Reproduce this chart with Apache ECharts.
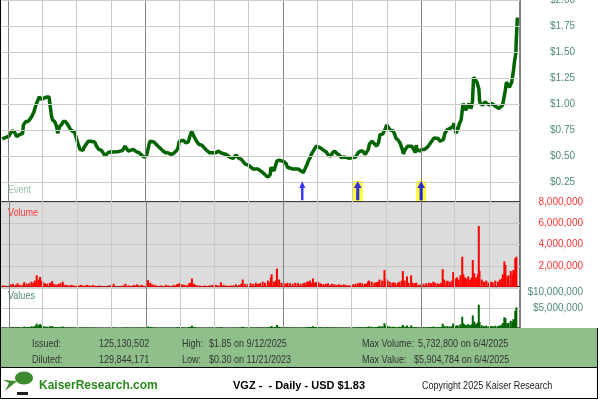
<!DOCTYPE html>
<html><head><meta charset="utf-8">
<script src="https://cdn.jsdelivr.net/npm/echarts/dist/echarts.min.js"></script>
<style>html,body{margin:0;padding:0;background:#fff}#c{width:600px;height:400px}</style>
</head><body><div id="c"></div>
<script>
// ---------- data ----------
const dates = [
 '2021-12-17','2021-12-23',
 '2022-01-03','2022-01-06','2022-01-12','2022-01-19','2022-01-24','2022-01-28',
 '2022-02-01','2022-02-09','2022-02-11','2022-02-17','2022-02-23',
 '2022-03-02','2022-03-07','2022-03-11','2022-03-16','2022-03-21','2022-03-25','2022-03-28',
 '2022-04-01','2022-04-07','2022-04-13','2022-04-20','2022-04-22','2022-04-26','2022-04-29',
 '2022-05-05','2022-05-10','2022-05-13','2022-05-18','2022-05-24','2022-05-27',
 '2022-06-03','2022-06-09','2022-06-16','2022-06-21','2022-06-27',
 '2022-07-01','2022-07-05','2022-07-11','2022-07-15','2022-07-19','2022-07-22','2022-07-28',
 '2022-08-02','2022-08-08','2022-08-12','2022-08-19','2022-08-24','2022-08-30',
 '2022-09-06','2022-09-09','2022-09-16','2022-09-23','2022-09-30',
 '2022-10-07','2022-10-12','2022-10-18','2022-10-25',
 '2022-11-01','2022-11-07','2022-11-11','2022-11-16','2022-11-21','2022-11-29',
 '2022-12-02','2022-12-08','2022-12-15','2022-12-21','2022-12-27',
 '2023-01-03','2023-01-06','2023-01-12','2023-01-17','2023-01-23','2023-01-27',
 '2023-02-03','2023-02-09','2023-02-16','2023-02-23',
 '2023-03-01','2023-03-08','2023-03-15','2023-03-20','2023-03-24','2023-03-28','2023-03-31',
 '2023-04-06','2023-04-12','2023-04-17','2023-04-24','2023-04-28',
 '2023-05-03','2023-05-08','2023-05-11','2023-05-16','2023-05-23','2023-05-30',
 '2023-06-05','2023-06-12','2023-06-19','2023-06-26','2023-06-30',
 '2023-07-06','2023-07-12','2023-07-19','2023-07-26',
 '2023-08-02','2023-08-08','2023-08-14','2023-08-21','2023-08-28',
 '2023-09-05','2023-09-11','2023-09-15','2023-09-22','2023-09-29',
 '2023-10-06','2023-10-13','2023-10-20','2023-10-26','2023-10-31',
 '2023-11-07','2023-11-13','2023-11-21','2023-11-27','2023-11-29',
 '2023-12-01','2023-12-07','2023-12-12','2023-12-15','2023-12-21','2023-12-27',
 '2024-01-02','2024-01-08','2024-01-12','2024-01-19','2024-01-26',
 '2024-02-02','2024-02-09','2024-02-16','2024-02-23','2024-02-27',
 '2024-03-04','2024-03-07','2024-03-12','2024-03-15','2024-03-20','2024-03-25','2024-03-28',
 '2024-04-02','2024-04-08','2024-04-11','2024-04-17','2024-04-23','2024-04-29',
 '2024-05-06','2024-05-10','2024-05-16','2024-05-22','2024-05-28',
 '2024-06-03','2024-06-10','2024-06-17','2024-06-24',
 '2024-07-01','2024-07-05','2024-07-11','2024-07-17','2024-07-23','2024-07-29',
 '2024-08-05','2024-08-08','2024-08-13','2024-08-16','2024-08-23','2024-08-30',
 '2024-09-04','2024-09-09','2024-09-13','2024-09-20','2024-09-26',
 '2024-10-01','2024-10-04','2024-10-10','2024-10-17','2024-10-21','2024-10-25',
 '2024-11-01','2024-11-05','2024-11-11','2024-11-14','2024-11-19','2024-11-25','2024-11-29',
 '2024-12-06','2024-12-10','2024-12-16','2024-12-18','2024-12-20','2024-12-27',
 '2025-01-02','2025-01-08','2025-01-15','2025-01-22','2025-01-28',
 '2025-02-03','2025-02-07','2025-02-14','2025-02-19','2025-02-24','2025-02-28',
 '2025-03-04','2025-03-10','2025-03-13','2025-03-19','2025-03-25','2025-03-28',
 '2025-04-02','2025-04-07','2025-04-11','2025-04-16','2025-04-21','2025-04-24','2025-04-28',
 '2025-05-02','2025-05-07','2025-05-12','2025-05-16','2025-05-19','2025-05-23','2025-05-28',
 '2025-06-02','2025-06-04','2025-06-06','2025-06-12','2025-06-18','2025-06-24','2025-06-30',
 '2025-07-07','2025-07-11','2025-07-18','2025-07-25','2025-07-30',
 '2025-08-04','2025-08-07','2025-08-11','2025-08-14','2025-08-19','2025-08-22','2025-08-28',
 '2025-09-02','2025-09-04','2025-09-08','2025-09-09','2025-09-12'
];
const closePrice = [
 0.665,0.675,
 0.69,0.707,0.744,0.728,0.69,0.68,
 0.707,0.72,0.80,0.832,0.832,
 0.863,0.895,0.926,0.99,1.005,1.068,1.05,
 1.046,1.058,1.068,1.068,1.05,0.895,0.848,
 0.832,0.785,0.72,0.785,0.807,0.832,
 0.832,0.80,0.754,0.738,0.728,
 0.712,0.627,0.565,0.565,0.555,0.587,0.618,
 0.643,0.643,0.65,0.637,0.596,0.565,
 0.555,0.54,0.502,0.533,0.542,
 0.54,0.524,0.542,0.549,
 0.555,0.596,0.612,0.549,0.565,0.565,
 0.58,0.542,0.533,0.511,0.492,
 0.502,0.549,0.643,0.65,0.637,0.627,
 0.596,0.575,0.549,0.533,
 0.533,0.518,0.524,0.533,0.555,0.58,0.643,
 0.65,0.65,0.627,0.637,0.69,
 0.738,0.72,0.675,0.643,0.612,0.606,
 0.58,0.555,0.533,0.533,0.524,
 0.533,0.549,0.533,0.524,
 0.518,0.502,0.486,0.48,0.511,
 0.48,0.471,0.455,0.424,0.417,
 0.398,0.376,0.376,0.376,0.36,
 0.344,0.323,0.30,0.323,0.392,
 0.408,0.36,0.376,0.455,0.461,0.455,
 0.448,0.43,0.392,0.386,0.376,
 0.376,0.376,0.36,0.344,0.36,
 0.424,0.455,0.486,0.518,0.549,0.549,0.596,
 0.612,0.58,0.58,0.555,0.542,0.511,
 0.502,0.533,0.549,0.524,0.511,
 0.486,0.492,0.486,0.48,
 0.486,0.48,0.492,0.533,0.549,0.549,
 0.518,0.511,0.565,0.618,0.643,0.618,
 0.596,0.627,0.707,0.712,0.754,
 0.80,0.785,0.75,0.745,0.72,0.675,
 0.65,0.627,0.565,0.524,0.565,0.596,0.612,
 0.596,0.58,0.533,0.606,0.565,0.549,
 0.565,0.565,0.58,0.612,0.643,
 0.675,0.681,0.669,0.643,0.627,0.66,
 0.72,0.754,0.763,0.769,0.785,0.816,
 0.72,0.754,0.807,0.848,1.005,0.99,0.942,
 0.958,1.005,0.958,1.021,1.257,1.257,1.21,
 1.146,1.03,1.005,0.99,1.021,1.005,0.99,
 1.005,0.99,0.974,0.958,0.942,
 0.99,1.052,1.131,1.21,1.193,1.162,1.21,
 1.33,1.398,1.492,1.603,1.83
];
// shares traded, thousands
const volumeK = [
 150,120,
 200,250,300,200,350,150,
 200,300,450,300,350,
 500,400,600,1100,700,950,600,
 500,350,300,400,300,550,300,
 250,200,300,350,500,250,
 200,150,200,150,120,
 100,150,200,150,100,120,200,
 150,100,200,120,60,150,
 80,100,60,150,200,
 300,50,50,100,
 150,300,100,150,100,200,
 150,250,150,200,100,
 350,650,400,250,200,150,
 100,150,100,200,
 150,100,200,150,250,300,350,
 250,200,150,300,400,
 800,300,200,150,150,100,
 150,100,150,200,100,
 200,150,450,200,
 150,100,150,150,250,
 200,300,700,300,250,
 350,300,400,300,350,
 500,400,600,500,900,
 1200,500,600,1730,700,400,
 350,300,400,350,300,
 400,350,300,350,400,
 500,500,600,400,800,400,450,
 500,350,300,250,300,350,
 200,300,250,200,250,
 200,250,200,150,
 200,250,300,350,400,350,
 300,300,500,600,500,400,
 450,500,700,600,1600,
 800,600,500,400,450,350,
 400,500,600,1500,600,1000,400,
 1100,400,350,300,400,200,
 250,300,350,400,350,
 500,400,350,300,400,1670,
 700,500,600,500,600,1400,
 800,900,700,1100,2850,1200,900,
 800,1000,700,900,2540,1300,900,
 1200,5732.8,1500,700,500,600,400,
 500,450,600,500,700,
 800,1200,2400,2070,1000,1100,1500,
 1200,1600,1400,2700,2850
];
// dollar value traded, thousands of USD
const valueK = [
 100,80,
 140,180,220,150,240,100,
 140,220,360,250,290,
 430,360,560,1090,700,1010,630,
 520,370,320,430,320,490,250,
 210,160,220,270,400,210,
 170,120,150,110,90,
 70,90,110,80,60,70,120,
 100,60,130,80,40,80,
 40,50,30,80,110,
 160,30,30,50,
 80,180,60,80,60,110,
 90,140,80,100,50,
 180,360,260,160,130,90,
 60,90,50,110,
 80,50,100,80,140,170,230,
 160,130,90,190,280,
 590,220,140,100,90,60,
 90,60,80,110,50,
 110,80,240,100,
 80,50,70,70,130,
 100,140,320,130,100,
 140,110,150,110,130,
 170,130,180,160,350,
 490,180,230,790,320,180,
 160,130,160,140,110,
 150,130,110,120,140,
 210,230,290,210,440,220,270,
 310,200,170,140,160,180,
 100,160,140,100,130,
 100,120,100,70,
 100,120,150,190,220,190,
 160,150,280,370,320,250,
 270,310,490,430,1210,
 640,470,380,300,320,240,
 260,310,340,790,340,600,240,
 660,230,190,180,230,110,
 140,170,200,240,230,
 340,270,230,190,250,1100,
 500,380,460,380,470,1140,
 580,680,560,930,2860,1190,850,
 770,1000,670,920,3190,1630,1090,
 1380,5904.8,1510,690,510,600,400,
 500,450,580,480,660,
 790,1260,2710,2500,1190,1280,1820,
 1600,2240,2090,4330,5220
];
const priceTicks = [0.25,0.5,0.75,1.0,1.25,1.5,1.75,2.0];
const priceTickLabels = ['$0.25','$0.50','$0.75','$1.00','$1.25','$1.50','$1.75','$2.00'];
const yearLines = ['2022-01-01','2023-01-01','2024-01-01','2025-01-01'];
const quarterLines = ['2022-04-01','2022-07-01','2022-10-01','2023-04-01','2023-07-01','2023-10-01',
 '2024-04-01','2024-07-01','2024-10-01','2025-04-01','2025-07-01'];
const eventDates = ['2024-02-20','2024-07-16','2024-12-31'];
const eventHighlighted = [false,true,true];
const statRows = [
 ['Issued:','125,130,502','High:','$1.85 on 9/12/2025','Max Volume:','5,732,800 on 6/4/2025'],
 ['Diluted:','129,844,171','Low:','$0.30 on 11/21/2023','Max Value:','$5,904,784 on 6/4/2025']
];
const titleText = 'VGZ -  - Daily - USD $1.83';
const brandText = 'KaiserResearch.com';
const copyrightText = 'Copyright 2025 Kaiser Research';

// ---------- chart ----------
const FONT = '"Liberation Sans",Arial,sans-serif';
const NARROW = 0.82;   // horizontal squeeze to imitate a narrow face
const X_MIN = '2021-12-11', X_MAX = '2025-09-19';
const TEAL = '#4f8a72';
const EVENT_Y = 0.167;

function commas(n){ return String(Math.round(n)).replace(/\B(?=(\d{3})+(?!\d))/g, ','); }

function vLines(){
  return quarterLines.map(d => ({xAxis: d, lineStyle: {color: '#c9c9c9'}}))
    .concat(yearLines.map(d => ({xAxis: d, lineStyle: {color: '#808080'}})));
}
function helper(gi, extra){
  return {type:'line', xAxisIndex:gi, yAxisIndex:gi, data:[], z:1, silent:true, animation:false,
    markLine:{silent:true, symbol:['none','none'], animation:false,
      lineStyle:{type:'solid', width:1}, label:{show:false},
      data: vLines().concat(extra || [])}};
}
const priceGridLines = priceTicks.map((v,i) => ({
  yAxis: v, lineStyle:{color:'#cccccc'},
  label:{show:true, position:'end', formatter: priceTickLabels[i], color: TEAL,
    fontFamily: FONT, fontSize: 10, distance: 55, align:'right'}
}));

const chart = echarts.init(document.getElementById('c'), null, {renderer:'canvas'});

const txt = (text, x, y, fill, font, sx) => ({type:'text', x:x, y:y, scaleX: sx || 1, silent:true, z:100,
  style:{text:text, fill:fill, font:font, textAlign:'left', textVerticalAlign:'middle', align:'left', verticalAlign:'middle'}});

const graphics = [
  {type:'rect', shape:{x:0, y:328, width:598, height:40}, style:{fill:'#8fbf8b'}, z:90, silent:true},
  {type:'rect', shape:{x:0.5, y:367.5, width:597, height:31}, style:{fill:'#fff', stroke:'#000', lineWidth:1}, z:90, silent:true},
  {type:'line', shape:{x1:0.5, y1:0, x2:0.5, y2:399}, style:{stroke:'#000', lineWidth:1}, z:95, silent:true},
  {type:'line', shape:{x1:597.5, y1:328, x2:597.5, y2:399}, style:{stroke:'#000', lineWidth:1}, z:95, silent:true},
  txt('Event', 8, 190, '#9cc4a4', '11px ' + FONT, NARROW),
  txt('Volume', 8, 213, '#ff3b3b', '11px ' + FONT, NARROW),
  txt('Values', 8, 296, TEAL, '11px ' + FONT, NARROW),
  // logo
  {type:'polygon', shape:{points:[[17,381],[5,391],[9,383],[3,380]]}, style:{fill:'#3d8b2e'}, z:95, silent:true},
  {type:'ellipse', shape:{cx:24, cy:378, rx:9, ry:6.5}, style:{fill:'#3d8b2e'}, z:95, silent:true},
  {type:'rect', shape:{x:17, y:392, width:11, height:3}, style:{fill:'#222'}, z:95, silent:true},
  txt(brandText, 39, 386, '#2a8a1e', 'bold 12px ' + FONT),
  txt(titleText, 233, 386, '#000', 'bold 11px ' + FONT),
  txt(copyrightText, 422, 386, '#222', '11px ' + FONT, NARROW)
];
const colX = [[32, 99], [182, 209], [362, 418]];
statRows.forEach((row, r) => {
  const y = r === 0 ? 344 : 359.5;
  for (let c = 0; c < 3; c++) {
    graphics.push(txt(row[c*2], colX[c][0], y, '#333', '11px ' + FONT, NARROW));
    let vx = colX[c][1];
    if (c === 2 && r === 1) vx = 414;
    graphics.push(txt(row[c*2+1], vx, y, '#333', '11px ' + FONT, NARROW));
  }
});

const arrowPath = 'path://M5,0 L10,7 L7,7 L7,20 L3,20 L3,7 L0,7 Z';

const option = {
  backgroundColor:'#ffffff',
  animation:false,
  grid:[
    {left:0, width:520, top:-4, height:206, show:true, borderColor:'#000', borderWidth:1, backgroundColor:'transparent'},
    {left:0, width:520, top:202, height:85, show:true, borderColor:'#000', borderWidth:1, backgroundColor:'#dcdcdc'},
    {left:0, width:520, top:287, height:41, show:true, borderColor:'#000', borderWidth:1, backgroundColor:'#ffffff'}
  ],
  xAxis:[0,1,2].map(i => ({type:'time', gridIndex:i, min:X_MIN, max:X_MAX, show:false})),
  yAxis:[
    {type:'value', gridIndex:0, min:0.06, max:2.0, show:false},
    {type:'value', gridIndex:1, min:0, max:8000000, interval:2000000, position:'right',
      axisLine:{show:false}, axisTick:{show:false},
      splitLine:{lineStyle:{color:'#c6c6c6'}},
      axisLabel:{color:'#ff3030', fontFamily:FONT, fontSize:10, align:'right', margin:63,
        formatter: v => v === 0 ? '' : commas(v)}},
    {type:'value', gridIndex:2, min:0, max:10400000, interval:5000000, position:'right',
      axisLine:{show:false}, axisTick:{show:false},
      splitLine:{lineStyle:{color:'#cccccc'}},
      axisLabel:{color:TEAL, fontFamily:FONT, fontSize:10, align:'right', margin:63,
        formatter: v => v === 0 ? '' : (v >= 10000000 ? '{t|$' + commas(v) + '}' : '$' + commas(v)),
        rich:{t:{color:TEAL, fontFamily:FONT, fontSize:10, padding:[8,0,0,0]}}}}
  ],
  series:[
    helper(0, priceGridLines),
    helper(1),
    helper(2),
    {type:'line', name:'Price', xAxisIndex:0, yAxisIndex:0, z:3, showSymbol:false, silent:true,
      lineStyle:{color:'#006400', width:3.5}, data: dates.map((d,i) => [d, closePrice[i]])},
    {type:'scatter', xAxisIndex:0, yAxisIndex:0, z:4, silent:true, symbol:'rect', symbolSize:[10,20],
      itemStyle:{color:'#ffff00'},
      data: eventDates.filter((d,i) => eventHighlighted[i]).map(d => [d, EVENT_Y])},
    {type:'scatter', xAxisIndex:0, yAxisIndex:0, z:5, silent:true, symbol:arrowPath,
      itemStyle:{color:'#0000ff'},
      data: eventDates.map((d,i) => ({value:[d, EVENT_Y], symbolSize: eventHighlighted[i] ? [8,19] : [6,19]}))},
    {type:'bar', name:'Volume', xAxisIndex:1, yAxisIndex:1, z:3, barWidth:2, silent:true,
      itemStyle:{color:'#ff0000'}, data: dates.map((d,i) => [d, volumeK[i]*1000])},
    {type:'bar', name:'Values', xAxisIndex:2, yAxisIndex:2, z:3, barWidth:2, silent:true,
      itemStyle:{color:'#006400'}, data: dates.map((d,i) => [d, valueK[i]*1000])}
  ],
  graphic: graphics
};
if (dates.length !== closePrice.length || dates.length !== volumeK.length || dates.length !== valueK.length) {
  console.error('length mismatch', dates.length, closePrice.length, volumeK.length, valueK.length);
}
chart.setOption(option);
</script>
</body></html>
